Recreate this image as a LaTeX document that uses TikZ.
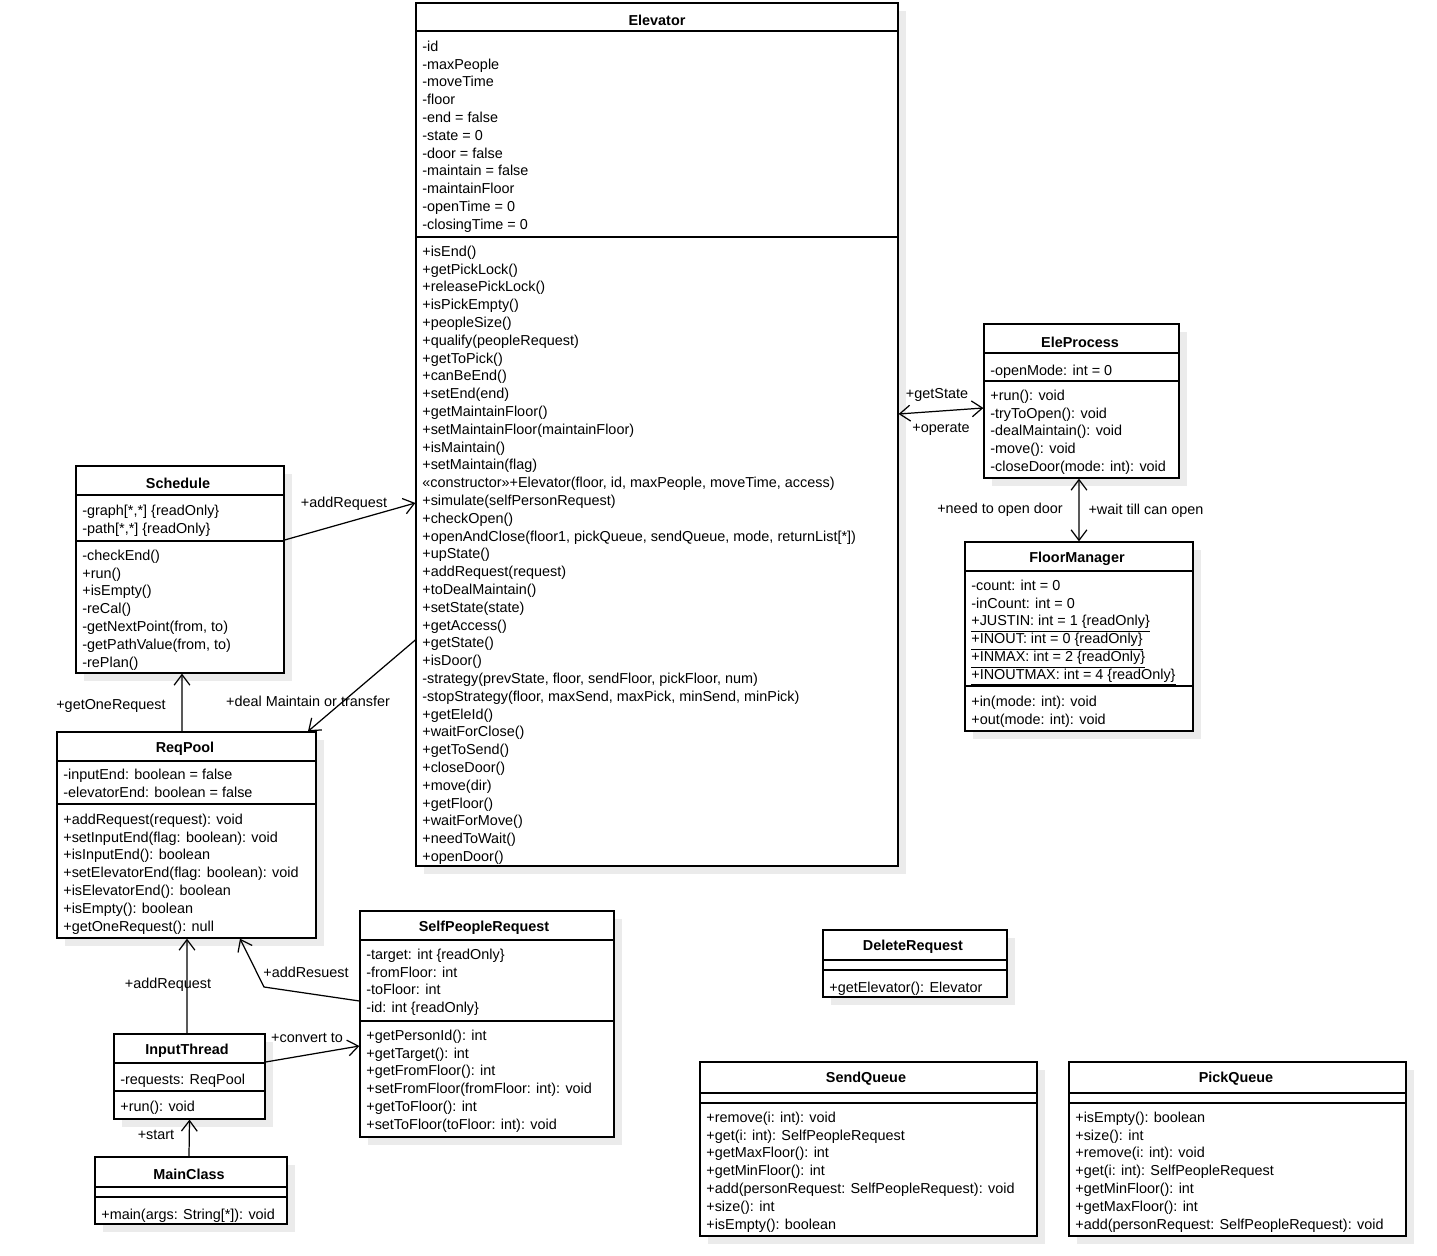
\documentclass[tikz,border=0pt]{standalone}
\usepackage{fontspec}
\setmainfont{Liberation Sans}
\usetikzlibrary{fit,shadows,arrows.meta,positioning}

\tikzset{
  cls/.style={draw, fill=white, inner sep=0pt, line width=0.7pt,
    drop shadow={shadow xshift=0.16cm, shadow yshift=-0.16cm, fill=black!8, opacity=1}},
  ttl/.style={font=\fontsize{8.2}{10.13}\selectfont\bfseries, inner sep=0pt, yshift=-0.04cm},
  txt/.style={anchor=north west, inner sep=0pt, align=left, font=\fontsize{8.2}{10.13}\selectfont,
    yshift=0.19cm, execute at begin node=\strut},
  lbl/.style={inner sep=0pt, font=\fontsize{8.2}{10.13}\selectfont},
  sep/.style={line width=0.7pt},
  assoc/.style={line width=0.7pt, -{Straight Barb[length=6pt,width=9pt]}},
  both/.style={line width=0.7pt, {Straight Barb[length=6pt,width=9pt]}-{Straight Barb[length=6pt,width=9pt]}}
}

\begin{document}
\begin{tikzpicture}[x=0.02cm,y=-0.02cm]
\useasboundingbox (0,0) rectangle (1437,1256);

% Elevator
\node[cls, fit={(416,3) (898,866)}] (elevator) {};
\draw[sep] (416,31) -- (898,31) (416,237) -- (898,237);
\node[ttl] (elevator-t) at (657,18) {Elevator};
\node[txt] (elevator-a) at (422,50) {-id\\-maxPeople\\-moveTime\\-floor\\-end = false\\-state = 0\\-door = false\\-maintain = false\\-maintainFloor\\-openTime = 0\\-closingTime = 0};
\node[txt] (elevator-m) at (422,255) {+isEnd()\\+getPickLock()\\+releasePickLock()\\+isPickEmpty()\\+peopleSize()\\+qualify(peopleRequest)\\+getToPick()\\+canBeEnd()\\+setEnd(end)\\+getMaintainFloor()\\+setMaintainFloor(maintainFloor)\\+isMaintain()\\+setMaintain(flag)\\«constructor»+Elevator(floor, id, maxPeople, moveTime, access)\\+simulate(selfPersonRequest)\\+checkOpen()\\+openAndClose(floor1, pickQueue, sendQueue, mode, returnList[*])\\+upState()\\+addRequest(request)\\+toDealMaintain()\\+setState(state)\\+getAccess()\\+getState()\\+isDoor()\\-strategy(prevState, floor, sendFloor, pickFloor, num)\\-stopStrategy(floor, maxSend, maxPick, minSend, minPick)\\+getEleId()\\+waitForClose()\\+getToSend()\\+closeDoor()\\+move(dir)\\+getFloor()\\+waitForMove()\\+needToWait()\\+openDoor()};

% Schedule
\node[cls, fit={(76,466) (284,673)}] (schedule) {};
\draw[sep] (76,495) -- (284,495) (76,541) -- (284,541);
\node[ttl] (schedule-t) at (178,481) {Schedule};
\node[txt] (schedule-a) at (82,514) {-graph[*,*] \{readOnly\}\\-path[*,*] \{readOnly\}};
\node[txt] (schedule-m) at (82,559) {-checkEnd()\\+run()\\+isEmpty()\\-reCal()\\-getNextPoint(from, to)\\-getPathValue(from, to)\\-rePlan()};

% ReqPool
\node[cls, fit={(57,732) (316,938)}] (reqpool) {};
\draw[sep] (57,761) -- (316,761) (57,804) -- (316,804);
\node[ttl] (reqpool-t) at (185,747) {ReqPool};
\node[txt] (reqpool-a) at (63,778) {-inputEnd: boolean = false\\-elevatorEnd: boolean = false};
\node[txt] (reqpool-m) at (63,823) {+addRequest(request): void\\+setInputEnd(flag: boolean): void\\+isInputEnd(): boolean\\+setElevatorEnd(flag: boolean): void\\+isElevatorEnd(): boolean\\+isEmpty(): boolean\\+getOneRequest(): null};

% InputThread
\node[cls, fit={(114,1034) (265,1119)}] (inputthread) {};
\draw[sep] (114,1063) -- (265,1063) (114,1091) -- (265,1091);
\node[ttl] (inputthread-t) at (187,1049) {InputThread};
\node[txt] (inputthread-a) at (120,1081) {-requests: ReqPool};
\node[txt] (inputthread-m) at (120,1108) {+run(): void};

% MainClass
\node[cls, fit={(95,1157) (287,1224)}] (mainclass) {};
\draw[sep] (95,1187) -- (287,1187) (95,1197) -- (287,1197);
\node[ttl] (mainclass-t) at (189,1172) {MainClass};
\node[txt] (mainclass-m) at (101,1216) {\underline{+main(args: String[*]): void}};

% SelfPeopleRequest
\node[cls, fit={(360,911) (614,1137)}] (selfpeople) {};
\draw[sep] (360,940) -- (614,940) (360,1021) -- (614,1021);
\node[ttl] (selfpeople-t) at (484,926) {SelfPeopleRequest};
\node[txt] (selfpeople-a) at (366,958) {-target: int \{readOnly\}\\-fromFloor: int\\-toFloor: int\\-id: int \{readOnly\}};
\node[txt] (selfpeople-m) at (366,1039) {+getPersonId(): int\\+getTarget(): int\\+getFromFloor(): int\\+setFromFloor(fromFloor: int): void\\+getToFloor(): int\\+setToFloor(toFloor: int): void};

% DeleteRequest
\node[cls, fit={(823,930) (1007,997)}] (deleterequest) {};
\draw[sep] (823,960) -- (1007,960) (823,970) -- (1007,970);
\node[ttl] (deleterequest-t) at (913,945) {DeleteRequest};
\node[txt] (deleterequest-m) at (829,989) {+getElevator(): Elevator};

% SendQueue
\node[cls, fit={(700,1062) (1037,1236)}] (sendqueue) {};
\draw[sep] (700,1093) -- (1037,1093) (700,1103) -- (1037,1103);
\node[ttl] (sendqueue-t) at (866,1077) {SendQueue};
\node[txt] (sendqueue-m) at (706,1121) {+remove(i: int): void\\+get(i: int): SelfPeopleRequest\\+getMaxFloor(): int\\+getMinFloor(): int\\+add(personRequest: SelfPeopleRequest): void\\+size(): int\\+isEmpty(): boolean};

% PickQueue
\node[cls, fit={(1069,1062) (1406,1236)}] (pickqueue) {};
\draw[sep] (1069,1093) -- (1406,1093) (1069,1103) -- (1406,1103);
\node[ttl] (pickqueue-t) at (1236,1077) {PickQueue};
\node[txt] (pickqueue-m) at (1075,1121) {+isEmpty(): boolean\\+size(): int\\+remove(i: int): void\\+get(i: int): SelfPeopleRequest\\+getMinFloor(): int\\+getMaxFloor(): int\\+add(personRequest: SelfPeopleRequest): void};

% EleProcess
\node[cls, fit={(984,324) (1179,478)}] (eleprocess) {};
\draw[sep] (984,353) -- (1179,353) (984,381) -- (1179,381);
\node[ttl] (eleprocess-t) at (1080,340) {EleProcess};
\node[txt] (eleprocess-a) at (990,372) {-openMode: int = 0};
\node[txt] (eleprocess-m) at (990,399) {+run(): void\\-tryToOpen(): void\\-dealMaintain(): void\\-move(): void\\-closeDoor(mode: int): void};

% FloorManager
\node[cls, fit={(965,542) (1193,731)}] (floormanager) {};
\draw[sep] (965,571) -- (1193,571) (965,686) -- (1193,686);
\node[ttl] (floormanager-t) at (1077,557) {FloorManager};
\node[txt] (floormanager-a) at (971,589) {-count: int = 0\\-inCount: int = 0\\\underline{+JUSTIN: int = 1 \{readOnly\}}\\\underline{+INOUT: int = 0 \{readOnly\}}\\\underline{+INMAX: int = 2 \{readOnly\}}\\\underline{+INOUTMAX: int = 4 \{readOnly\}}};
\node[txt] (floormanager-m) at (971,705) {+in(mode: int): void\\+out(mode: int): void};

% connectors
\draw[assoc] ([yshift=0.59cm]schedule.east) -- ([yshift=-1.37cm]elevator.west);
\node[lbl] (l-addreq1) at (344,504) {+addRequest};
\draw[assoc] ([yshift=-4.11cm]elevator.west) -- ([xshift=2.43cm]reqpool.north);
\node[lbl] (l-deal) at (308,701) {+deal Maintain or transfer};
\draw[assoc] ([xshift=-0.09cm]reqpool.north) -- ([xshift=0.04cm]schedule.south);
\node[lbl] (l-getone) at (111,706) {+getOneRequest};
\draw[assoc] ([xshift=-0.05cm]inputthread.north) -- ([xshift=0.01cm]reqpool.south);
\node[lbl] (l-addreq2) at (168,985) {+addRequest};
\coordinate (bend) at (264,987);
\draw[assoc] ([yshift=0.46cm]selfpeople.west) -- (bend) -- ([xshift=1.07cm]reqpool.south);
\node[lbl] (l-addres) at (306,972) {+addResuest};
\draw[assoc] ([yshift=0.29cm]inputthread.east) -- ([yshift=-0.44cm]selfpeople.west);
\node[lbl] (l-convert) at (307,1038) {+convert to};
\draw[assoc] ([xshift=-0.04cm]mainclass.north) -- (inputthread.south);
\node[lbl] (l-start) at (156,1135) {+start};
\draw[both] ([yshift=0.41cm]elevator.east) -- ([yshift=-0.14cm]eleprocess.west);
\node[lbl] (l-getstate) at (937,395) {+getState};
\node[lbl] (l-operate) at (941,429) {+operate};
\draw[both] ([xshift=-0.05cm]eleprocess.south) -- (floormanager.north);
\node[lbl] (l-need) at (1000,510) {+need to open door};
\node[lbl] (l-wait) at (1146,511) {+wait till can open};
\end{tikzpicture}
\end{document}
